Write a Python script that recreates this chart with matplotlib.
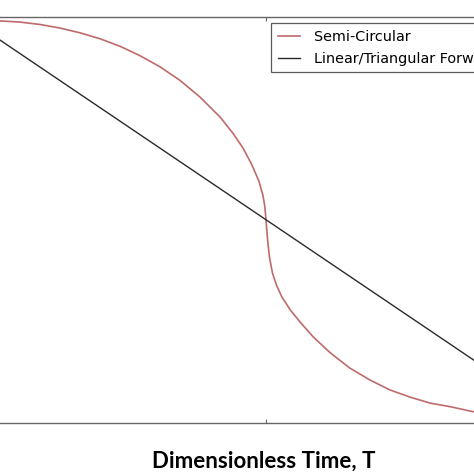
import matplotlib
matplotlib.use("Agg")
import matplotlib.pyplot as plt

# Semi-circular curve (T, value)
semi_t = [0.0, 0.025, 0.049, 0.083, 0.117, 0.151, 0.185, 0.219, 0.253, 0.286,
          0.320, 0.354, 0.388, 0.422, 0.444, 0.461, 0.476, 0.488, 0.495, 0.498,
          0.5, 0.501, 0.503, 0.506, 0.511, 0.518, 0.527, 0.541, 0.558, 0.580,
          0.609, 0.642, 0.676, 0.710, 0.744, 0.778, 0.812, 0.849, 0.9, 0.95, 1.0]
semi_v = [1.0, 1.0, 0.999, 0.996, 0.990, 0.981, 0.969, 0.954, 0.935, 0.912,
          0.884, 0.850, 0.808, 0.758, 0.717, 0.680, 0.638, 0.597, 0.560, 0.533,
          0.5, 0.480, 0.445, 0.405, 0.366, 0.335, 0.306, 0.274, 0.243, 0.206,
          0.166, 0.128, 0.098, 0.073, 0.055, 0.040, 0.031, 0.019, 0.008, 0.002, 0.0]

# Linear / triangular curve
lin_t = [0.0, 1.0]
lin_v = [1.0, 0.0]

labels = ["Semi-Circular", "Linear/Triangular Forward"]
xlabel = "Dimensionless Time, T"

W = 474
fig = plt.figure(figsize=(4.74, 4.74), dpi=100, facecolor="white")

# the axes run past the left and right edges of the picture
ax_left, ax_right = -29, 561
ax_top, ax_bot = 16.5, 423
ax = fig.add_axes([ax_left / W, 1 - ax_bot / W,
                   (ax_right - ax_left) / W, (ax_bot - ax_top) / W])

ax.plot(semi_t, semi_v, color="#c06a6a", lw=1.2, label=labels[0])
ax.plot(lin_t, lin_v, color="#2a2a2a", lw=1.0, label=labels[1])

ax.set_xlim(0, 1)
ax.set_ylim(-0.01, 1.01)
ax.set_xticks([0, 0.5, 1])
ax.set_xticklabels([])
ax.set_yticks([])
ax.tick_params(axis="x", direction="in", top=True, bottom=True, length=3,
               width=0.8, colors="#666666")
for s in ax.spines.values():
    s.set_color("#666666")
    s.set_linewidth(1.0)

leg = ax.legend(loc="upper left", bbox_to_anchor=(271 / W, 1 - 23.3 / W),
                bbox_transform=fig.transFigure, borderaxespad=0,
                fancybox=False, fontsize=10.4, handlelength=1.55,
                handletextpad=1.0, borderpad=0.45, labelspacing=0.55)
leg.get_frame().set_edgecolor("#333333")
leg.get_frame().set_linewidth(0.9)

fig.text(264 / W, 1 - 468 / W, xlabel, ha="center", va="baseline",
         fontsize=16, fontweight="bold", family=["Lato", "DejaVu Sans"])

fig.savefig("out.png", dpi=100, facecolor="white")
plt.close(fig)
